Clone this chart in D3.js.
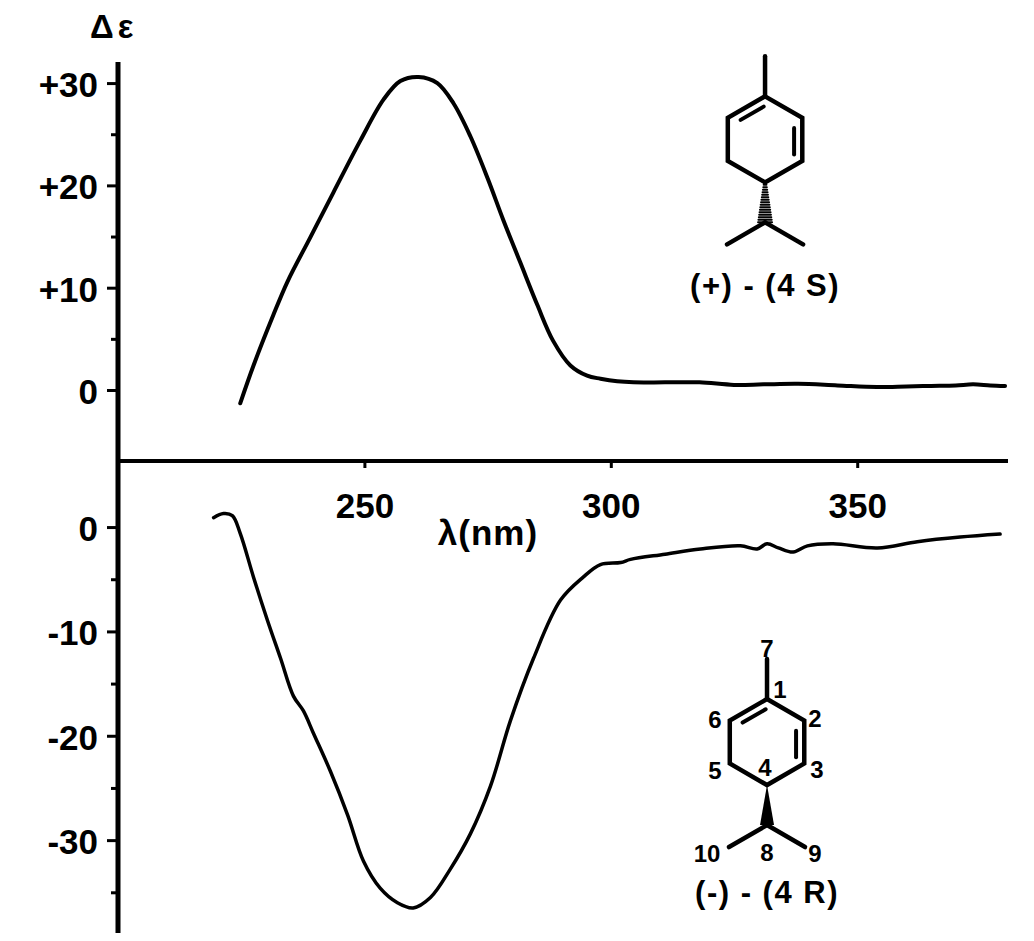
<!DOCTYPE html>
<html>
<head>
<meta charset="utf-8">
<script src="https://cdn.jsdelivr.net/npm/d3@7"></script>
<style>
  body { margin: 0; background: #fff; }
  text { font-family: "Liberation Sans", Arial, sans-serif; font-weight: bold; fill: #000; }
</style>
</head>
<body>
<div id="chart"></div>
<script>
// CD spectra of the two enantiomers
var wavelengthPlus = [224.8, 227.5, 231.5, 234.4, 239.0, 243.7, 249.2, 253.9, 257.3, 261.0, 264.8, 268.1, 271.5, 275.0, 278.2, 281.6, 285.1, 288.3, 291.8, 295.2, 297.9, 301.3, 304.6, 311, 318, 325, 331, 338, 346, 354, 360, 365, 370, 373.5, 377, 380];
var deltaPlus = [-1.3, 2.4, 7.3, 10.6, 14.9, 19.3, 24.4, 28.4, 30.2, 30.6, 30.0, 28.0, 24.8, 20.7, 16.6, 12.5, 8.3, 4.8, 2.4, 1.4, 1.1, 0.85, 0.75, 0.75, 0.75, 0.5, 0.55, 0.6, 0.45, 0.3, 0.35, 0.4, 0.45, 0.55, 0.45, 0.4];

var wavelengthMinus = [219.4, 221.4, 223.2, 224.8, 227.5, 230.3, 233.0, 235.6, 237.6, 239.7, 243.1, 246.6, 249.8, 253.2, 256.7, 259.9, 263.4, 267.4, 271.5, 275.6, 279.6, 284.3, 289.8, 294.4, 297.9, 302.0, 304, 311, 318.2, 326.3, 329.7, 331.7, 334, 337.0, 339.9, 345.1, 354.1, 362.2, 370.9, 379.0];
var deltaMinus = [0.9, 1.3, 1.1, -0.6, -4.8, -8.9, -12.6, -16.2, -17.6, -19.8, -23.4, -27.6, -32.0, -34.6, -36.0, -36.5, -35.5, -32.8, -29.4, -24.8, -18.6, -12.6, -7.0, -4.8, -3.6, -3.4, -3.1, -2.6, -2.1, -1.8, -2.1, -1.6, -2.0, -2.4, -1.8, -1.6, -2.0, -1.4, -0.96, -0.67];

var xTicks = [250, 300, 350];
var upperTicks = [30, 20, 10, 0];
var upperTickLabels = ["+30", "+20", "+10", "0"];
var upperMinor = [25, 15, 5];
var lowerTicks = [0, -10, -20, -30];
var lowerTickLabels = ["0", "-10", "-20", "-30"];
var lowerMinor = [-5, -15, -25, -35];

var w = 1034, h = 941;

var svg = d3.select("#chart").append("svg")
  .attr("width", w)
  .attr("height", h);

// scales
var x = d3.scaleLinear().domain([200, 380.6]).range([118, 1008]);
var yUp = d3.scaleLinear().domain([-6.94, 32.06]).range([461, 62]);
var yLow = d3.scaleLinear().domain([-38.9, 6.33]).range([933, 461]);

// axes
function styleAxis(g) {
  g.select(".domain").remove();
  g.selectAll(".tick line").attr("stroke", "#000").attr("stroke-width", 3);
  g.selectAll(".tick text").style("font-size", "35px").attr("fill", "#000");
}

svg.append("g")
  .attr("transform", "translate(118,0)")
  .call(d3.axisLeft(yUp).tickValues(upperTicks).tickSize(11).tickPadding(9)
    .tickFormat(function(d, i) { return upperTickLabels[i]; }))
  .call(styleAxis)
  .selectAll(".tick text").attr("dy", "0.38em");

svg.append("g")
  .attr("transform", "translate(118,0)")
  .call(d3.axisLeft(yUp).tickValues(upperMinor).tickSize(7).tickFormat(""))
  .call(styleAxis);

svg.append("g")
  .attr("transform", "translate(118,0)")
  .call(d3.axisLeft(yLow).tickValues(lowerTicks).tickSize(11).tickPadding(9)
    .tickFormat(function(d, i) { return lowerTickLabels[i]; }))
  .call(styleAxis)
  .selectAll(".tick text").attr("dy", "0.38em");

svg.append("g")
  .attr("transform", "translate(118,0)")
  .call(d3.axisLeft(yLow).tickValues(lowerMinor).tickSize(7).tickFormat(""))
  .call(styleAxis);

svg.append("g")
  .attr("transform", "translate(0,461)")
  .call(d3.axisBottom(x).tickValues(xTicks).tickSize(7).tickPadding(25))
  .call(styleAxis);

// axis lines
svg.append("line")
  .attr("x1", 118).attr("x2", 118)
  .attr("y1", yUp.range()[1]).attr("y2", yLow.range()[0])
  .attr("stroke", "#000").attr("stroke-width", 5);

svg.append("line")
  .attr("x1", 116).attr("x2", x.range()[1])
  .attr("y1", 461).attr("y2", 461)
  .attr("stroke", "#000").attr("stroke-width", 4);

// axis titles
svg.append("text")
  .attr("x", 90).attr("y", 38)
  .style("font-size", "33px")
  .style("letter-spacing", "4px")
  .text("Δε");

svg.append("text")
  .attr("x", 488).attr("y", 545)
  .attr("text-anchor", "middle")
  .style("font-size", "35px")
  .style("letter-spacing", "1px")
  .text("λ(nm)");

// spectra
var linePlus = d3.line()
  .x(function(d) { return x(d[0]); })
  .y(function(d) { return yUp(d[1]); })
  .curve(d3.curveCatmullRom);

var lineMinus = d3.line()
  .x(function(d) { return x(d[0]); })
  .y(function(d) { return yLow(d[1]); })
  .curve(d3.curveCatmullRom);

svg.append("path")
  .datum(d3.zip(wavelengthPlus, deltaPlus))
  .attr("d", linePlus)
  .attr("fill", "none").attr("stroke", "#000").attr("stroke-width", 4)
  .attr("stroke-linejoin", "round").attr("stroke-linecap", "round");

svg.append("path")
  .datum(d3.zip(wavelengthMinus, deltaMinus))
  .attr("d", lineMinus)
  .attr("fill", "none").attr("stroke", "#000").attr("stroke-width", 3.5)
  .attr("stroke-linejoin", "round").attr("stroke-linecap", "round");

// structure drawings (p-menthadiene), drawn relative to the ring centre
function molecule(cx, cy, hashed, label, labelY, numbers) {
  var g = svg.append("g").attr("transform", "translate(" + cx + "," + cy + ")");
  var r = 43;
  var pts = d3.range(6).map(function(i) {
    var a = (-90 + 60 * i) * Math.PI / 180;
    return [r * Math.cos(a), r * Math.sin(a)];
  });
  var bond = function(a, b, sw) {
    g.append("line")
      .attr("x1", a[0]).attr("y1", a[1]).attr("x2", b[0]).attr("y2", b[1])
      .attr("stroke", "#000").attr("stroke-width", sw || 4.5).attr("stroke-linecap", "round");
  };
  g.append("path")
    .attr("d", d3.line()(pts) + "Z")
    .attr("fill", "none").attr("stroke", "#000").attr("stroke-width", 4.5)
    .attr("stroke-linejoin", "miter");
  // inner double bonds C1=C6 and C2=C3
  var inner = function(a, b) {
    var k = 0.78, s = 0.16;
    var a2 = [a[0] * k, a[1] * k], b2 = [b[0] * k, b[1] * k];
    var dx = b2[0] - a2[0], dy = b2[1] - a2[1];
    bond([a2[0] + dx * s, a2[1] + dy * s], [b2[0] - dx * s * 0.3, b2[1] - dy * s * 0.3], 4);
  };
  inner(pts[5], pts[0]);
  inner(pts[1], pts[2]);
  // methyl
  bond(pts[0], [0, pts[0][1] - 40]);
  // wedge C4 -> C8
  var c4 = pts[3], c8 = [0, c4[1] + 40];
  if (hashed) {
    d3.range(0, 41, 2.5).forEach(function(t) {
      var hw = 1 + t / 40 * 6;
      bond([-hw, c4[1] + t], [hw, c4[1] + t], 2);
    });
  } else {
    g.append("path")
      .attr("d", "M0," + c4[1] + "L-7," + c8[1] + "L7," + c8[1] + "Z")
      .attr("fill", "#000");
  }
  bond(c8, [-38, c8[1] + 22]);
  bond(c8, [38, c8[1] + 22]);
  g.append("text")
    .attr("x", 0).attr("y", labelY)
    .attr("text-anchor", "middle")
    .style("font-size", "31px")
    .style("letter-spacing", "1.5px")
    .text(label);
  if (numbers) {
    numbers.forEach(function(n) {
      g.append("text")
        .attr("x", n[1]).attr("y", n[2])
        .attr("dy", "0.36em")
        .attr("text-anchor", "middle")
        .style("font-size", "24px")
        .text(n[0]);
    });
  }
}

molecule(x(331.3), yUp(24.5), true, "(+) - (4 S)", 157, null);
molecule(x(331.7), yLow(-20.6), false, "(-) - (4 R)", 161, [
  ["7", 0, -94], ["1", 13, -53], ["6", -52, -23], ["2", 48, -24],
  ["5", -52, 28], ["4", -2, 25], ["3", 50, 27],
  ["10", -60, 111], ["8", 0, 110], ["9", 48, 111]
]);
</script>
</body>
</html>
